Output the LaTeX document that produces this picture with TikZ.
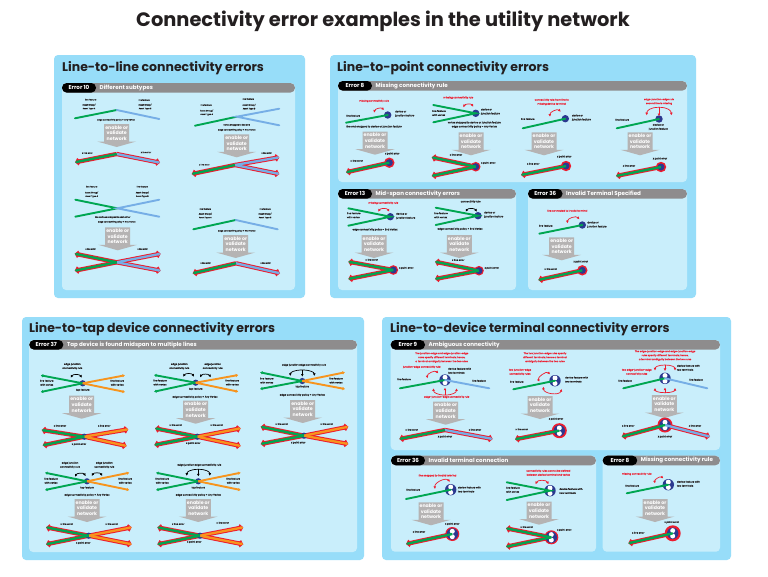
\documentclass[tikz,border=0pt]{standalone}
\usepackage{fontspec}
\setmainfont{Poppins}
\newfontfamily\medf{Poppins}[FakeBold=0.04]
\usetikzlibrary{arrows.meta}
\definecolor{paneloc}{HTML}{97DDF9}
\definecolor{innerc}{HTML}{C9EEFB}
\definecolor{barc}{HTML}{8E8C8D}
\definecolor{blockc}{HTML}{B5B3B3}
\definecolor{lgreen}{HTML}{00A651}
\definecolor{lblue}{HTML}{76AEE6}
\definecolor{lorange}{HTML}{F7941D}
\definecolor{lred}{HTML}{ED1C2E}
\definecolor{devc}{HTML}{2B3990}
\definecolor{inkc}{HTML}{231F20}
\tikzset{
  panel/.style={fill=paneloc,rounded corners=4pt},
  inner/.style={fill=innerc,rounded corners=4pt},
  ttl/.style={anchor=west,inner sep=0,text=inkc,font=\fontsize{12.5}{14}\selectfont\bfseries},
  lab/.style={inner sep=0,align=center,text=inkc,font=\fontsize{2.4}{4}\selectfont\medf},
  labs/.style={inner sep=0,align=center,text=inkc,font=\fontsize{2}{3.6}\selectfont\medf},
  labl/.style={lab,anchor=west,align=left},
  rlab/.style={lab,text=lred},
  glin/.style={line width=1.9pt,draw=#1,line cap=round},
  tlin/.style={line width=1.9pt,draw=#1,-{Latex[length=2.5pt,width=3.6pt]}},
  errout/.style={line width=4.3pt,draw=lred,-{Diamond[length=6pt,width=7.5pt]}},
  errin/.style={line width=2.3pt,draw=#1,-{Latex[length=2.5pt,width=3.6pt]}},
  rul/.style={line width=.7pt,draw=#1,{Latex[length=2.6pt,width=2.8pt]}-{Latex[length=2.6pt,width=2.8pt]}},
  rulo/.style={line width=.7pt,draw=#1,-{Latex[length=2.6pt,width=2.8pt]}}
}
% grey arrow that says enable or validate
\newcommand{\enable}[2]{%
  \fill[blockc] (#1-12.5,#2) -- (#1+12.5,#2) -- (#1+12.5,#2+17.5) -- (#1+19.5,#2+17.5) -- (#1,#2+23) -- (#1-19.5,#2+17.5) -- (#1-12.5,#2+17.5) -- cycle;
  \node[inner sep=0,align=center,text=white,font=\fontsize{4.7}{5.6}\selectfont\bfseries] at (#1,#2+9) {enable or\\validate\\network};
}
% header bar of one error
\newcommand{\errbar}[6]{%
  \fill[barc,rounded corners=4.7pt] (#1,#3) rectangle (#2,#3+9.6);
  \fill[black,rounded corners=4.7pt] (#1,#3) rectangle (#1+#4,#3+9.6);
  \node[inner sep=0,text=white,font=\fontsize{5.6}{6}\selectfont\bfseries] at (#1+#4/2,#3+4.8) {#5};
  \node[anchor=west,inner sep=0,text=white,font=\fontsize{5.6}{6}\selectfont\bfseries] at (#1+#4+3.5,#3+4.8) {#6};
}
\newcommand{\dev}[2]{\fill[devc] (#1,#2) circle (3.7);}
\newcommand{\tap}[2]{\fill[devc] (#1,#2) circle (3.1);}
\newcommand{\edev}[3]{\fill[lred] (#1,#2) circle (#3); \fill[devc] (#1,#2) circle (3.5);}
\newcommand{\twot}[2]{\fill[devc] (#1,#2) circle (5.7); \fill[white] (#1,#2-2.7) circle (2.5); \fill[white] (#1,#2+2.7) circle (2.5);}
\newcommand{\etwot}[3]{\fill[lred] (#1,#2) circle (#3); \twot{#1}{#2}}
% error highlight, #3 goes between the red rim and the feature
\newcommand{\errg}[3]{%
  \foreach \e in {#2} \draw[errout] #1 -- \e;
  #3
  \foreach \e in {#2} \draw[errin=lgreen] #1 -- \e;
}
\newcommand{\errgb}[5]{%
  \foreach \e in {#2,#4} \draw[errout] #1 -- \e;
  #5
  \foreach \e in {#4} \draw[errin=#3] #1 -- \e;
  \foreach \e in {#2} \draw[errin=lgreen] #1 -- \e;
}
% three arrows out of one point, #4 half width, #5 drop
\newcommand{\trio}[5]{%
  \draw[rulo=#1] (#2,#3) .. controls (#2-#4*.7,#3) and (#2-#4,#3+#5*.4) .. (#2-#4,#3+#5);
  \draw[rulo=#1] (#2,#3) .. controls (#2+#4*.7,#3) and (#2+#4,#3+#5*.4) .. (#2+#4,#3+#5);
  \draw[rulo=#1] (#2,#3) -- (#2,#3+#5*1.1);
}
\begin{document}
\begin{tikzpicture}[x=1pt,y=-1pt]
\useasboundingbox (0,0) rectangle (768,576);
\fill[white] (0,0) rectangle (768,576);
\node[inner sep=0,text=inkc,font=\fontsize{19.4}{22}\selectfont\bfseries] (title) at (383,21.5) {Connectivity error examples in the utility network};

%%% line to line
\fill[panel] (54,55) rectangle (305,298);
\fill[inner] (62,83) rectangle (295,290);
\node[ttl] (ttlA) at (62,68) {Line-to-line connectivity errors};
\errbar{62}{295}{83}{34}{Error 10}{Different subtypes}
% subtypes 1
\node[labs] at (90.7,99.7) {line feature};
\node[labs] at (89,106.7) {Asset Group/\\Asset Type A};
\node[labs] at (144,100) {line feature};
\node[labs] at (145,106.7) {Asset Group/\\Asset Type B};
\draw[glin=lgreen] (75,118.3) -- (116.7,110);
\draw[glin=lblue] (116.7,110) -- (159.3,119);
\node[labs] at (116,120) {edge connectivity policy = Any Vertex};
\enable{116.7}{124}
\errgb{(116.7,154)}{(75,162.3)}{lblue}{(160,162.7)}{}
\node[labs] at (87.3,153) {x line error};
\node[labs] at (146,152.3) {x line error};
% subtypes 2
\node[labs] at (206,105) {line feature};
\node[labs] at (206.7,112.5) {Asset Group/\\Asset Type A};
\node[labs] at (248.3,99) {line feature};
\node[labs] at (249,106.8) {Asset Group/\\Asset Type B};
\draw[glin=lgreen] (195,125.7) -- (236.7,116.7);
\draw[glin=lblue] (279.3,108.7) -- (236.7,116.7) -- (279.3,125.3);
\node[labs] at (236.7,125) {vertex snapped to line end};
\node[labs] at (236.7,130) {edge connectivity policy = Any Vertex};
\enable{236.7}{134.3}
\errgb{(235,165)}{(191.7,174)}{lblue}{(279.3,157.3),(279.3,174)}{}
\node[labs] at (204.3,164.7) {x line error};
\node[labs] at (266.7,153) {x line error};
% subtypes 3
\node[labs] at (91.7,186.7) {line feature};
\node[labs] at (91.7,194.4) {Asset Group/\\Asset Type A};
\node[labs] at (142.3,186.7) {line feature};
\node[labs] at (142.3,194.4) {Asset Group/\\Asset Type B};
\draw[glin=lgreen] (75.3,199.7) -- (117.3,208.3) -- (75.3,216.7);
\draw[glin=lblue] (159.3,199.7) -- (117.3,208.3) -- (159.3,216.7);
\node[labs] at (112.7,217.3) {line vertices snapped to each other};
\node[labs] at (116.7,222) {edge connectivity policy = Any Vertex};
\enable{117.7}{227.3}
\errgb{(116.7,262.3)}{(74.7,253.7),(74.7,270.7)}{lblue}{(160.7,253.7),(160.7,270.7)}{}
\node[labs] at (90.7,249) {x line error};
\node[labs] at (142.7,249) {x line error};
% subtypes 4
\node[labs] at (205.3,209) {line feature};
\node[labs] at (205.3,215.7) {Asset Group/\\Asset Type A};
\node[labs] at (265,209) {line feature};
\node[labs] at (265,215.7) {Asset Group/\\Asset Type B};
\draw[glin=lgreen] (193.3,229.3) -- (235.7,220);
\draw[glin=lblue] (235.7,220) -- (277.7,229.3);
\node[labs] at (236.7,231) {edge connectivity policy = End Vertex};
\enable{235.7}{235}
\errgb{(236,263.3)}{(192.7,273.3)}{lblue}{(280,273.3)}{}
\node[labs] at (205.7,263) {x line error};
\node[labs] at (265.7,263) {x line error};

%%% line to point
\fill[panel] (330,55) rectangle (696,298);
\fill[inner] (338,81) rectangle (687,182);
\fill[inner] (338,189) rectangle (516,290);
\fill[inner] (528,189) rectangle (687,290);
\node[ttl] (ttlB) at (337,68) {Line-to-point connectivity errors};
\errbar{338}{687}{81}{34}{Error 8}{Missing connectivity rule}
\errbar{338}{516}{189}{34}{Error 13}{Mid-span connectivity errors}
\errbar{528}{687}{189}{34.5}{Error 36}{Invalid Terminal Specified}
% missing rule 1
\dev{387.7}{115}
\draw[glin=lgreen] (346,122.7) -- (387.7,115);
\node[rlab] at (374,101) {missing connectivity rule};
\draw[rul=lred] (374,112.7) to[bend left=60] (384,110);
\node[lab] at (353.3,115.7) {line feature};
\node[labl] at (395,113.7) {device or\\junction feature};
\node[lab] at (374,126.7) {line end snapped to device or junction feature};
\enable{375}{131.7}
\errg{(389.3,162.7)}{(346,172.3)}{\edev{389.3}{162.7}{5.2}}
\node[lab] at (356.7,160.7) {x line error};
\node[lab] at (392.3,153.7) {x point error};
% missing rule 2
\dev{475.7}{113.3}
\draw[glin=lgreen] (433.3,105) -- (475.7,113.3) -- (433.3,122.3);
\node[rlab] at (458.3,97.7) {missing connectivity rule};
\draw[rul=lred] (463.3,107.3) to[bend left=60] (473.3,106.7);
\node[labl] at (432,113) {line feature\\with vertex};
\node[labl] at (480.7,111.7) {device or\\junction feature};
\node[lab] at (474.3,122.7) {vertex snapped to device or junction feature};
\node[lab] at (474.3,126.7) {edge connectivity policy = Any Vertex};
\enable{471}{132.3}
\errg{(475.7,166.7)}{(431.7,157.3),(431.7,176)}{\edev{475.7}{166.7}{4.8}}
\node[lab] at (456,154.7) {x line error};
\node[labl] at (481,163) {x point error};
% missing rule 3
\dev{565.3}{118.7}
\draw[glin=lgreen] (522.7,128.3) -- (565.3,118.7);
\node[rlab] at (551.7,102) {connectivity rule from line to\\missing device terminal};
\draw[rul=lred] (550,116.7) to[bend left=70] (560.7,111.7);
\node[lab] at (527.7,119) {line feature};
\node[labl] at (571.7,117.7) {device or\\junction feature};
\enable{544}{132.3}
\errg{(566,166)}{(521,175)}{\edev{566}{166}{5.2}}
\node[lab] at (533.3,163.7) {x line error};
\node[lab] at (564.3,156.7) {x point error};
% missing rule 4
\dev{659}{119}
\draw[glin=lgreen] (616.7,128.3) -- (659,119);
\node[rlab] at (659,101.5) {edge-junction-edge rule\\second line is missing};
\trio{lred}{659}{107.3}{12.3}{8}
\node[lab] at (622.3,119.7) {line feature};
\node[lab] at (658.3,127) {device or\\junction feature};
\enable{640}{132.3}
\errg{(661,167)}{(616,176)}{\edev{661}{167}{5.2}}
\node[lab] at (629,165.7) {x line error};
\node[lab] at (660,158.7) {x point error};
% mid span 1
\dev{390.3}{216.7}
\draw[glin=lgreen] (348.3,208.3) -- (390.3,216.7) -- (348.3,225.7);
\node[rlab] at (383.3,203) {missing connectivity rule};
\draw[rul=lred] (378.3,211.7) to[bend left=60] (389.3,211.7);
\node[labl] at (346.7,215.3) {line feature\\with vertex};
\node[labl] at (396,216) {device or\\junction feature};
\node[lab] at (375,229.7) {edge connectivity policy = End Vertex};
\enable{374}{235}
\errg{(393.3,270)}{(348.3,261.7),(348.3,279)}{\edev{393.3}{270}{4.8}}
\node[lab] at (371.7,259.7) {x line error};
\node[labl] at (399,268) {x point error};
% mid span 2
\dev{478}{215.7}
\draw[glin=lgreen] (435.7,207.7) -- (478,215.7) -- (435.7,225);
\node[lab] at (470.7,201.7) {connectivity rule};
\draw[rul=black] (465.7,211.7) to[bend left=60] (476.7,211.7);
\node[labl] at (434,215.3) {line feature\\with vertex};
\node[labl] at (484,214.7) {device or\\junction feature};
\node[lab] at (460,229) {edge connectivity policy = End Vertex};
\enable{459.3}{235}
\errg{(479,270.7)}{(435,261.7),(435,279)}{\edev{479}{270.7}{4.8}}
\node[lab] at (458.3,260) {x line error};
\node[labl] at (484.5,268) {x point error};
% invalid terminal
\dev{582.3}{225}
\draw[glin=lgreen] (539.3,233.7) -- (582.3,225);
\node[rlab] at (567.3,210.7) {line connected to invalid terminal};
\draw[rul=lred] (567.3,223.3) to[bend left=70] (579.3,219.3);
\node[lab] at (545.7,225.7) {line feature};
\node[labl] at (587.3,224.7) {device or\\junction feature};
\enable{561.7}{237.3}
\errg{(582.3,270.3)}{(538.3,280)}{\edev{582.3}{270.3}{5.2}}
\node[lab] at (550.7,269) {x line error};
\node[lab] at (580.7,261.7) {x point error};

%%% line to tap device
\fill[panel] (22,317) rectangle (364,560);
\fill[inner] (29,340) rectangle (357,552);
\node[ttl] (ttlC) at (29,329) {Line-to-tap device connectivity errors};
\errbar{29.3}{357}{340}{34}{Error 37}{Tap device is found midspan to multiple lines}
% tap 1
\tap{82.7}{383.3}
\draw[tlin=lgreen] (82.7,383.3) -- (40.7,375.3);
\draw[tlin=lgreen] (82.7,383.3) -- (40.7,392);
\draw[tlin=lorange] (82.7,383.3) -- (125,375.3);
\draw[tlin=lorange] (82.7,383.3) -- (125,392);
\node[lab] at (72.3,366.3) {edge junction\\connectivity rule};
\draw[rul=black] (70.7,377.7) to[bend left=60] (81.7,377.7);
\node[lab] at (46.7,382.7) {line feature\\with vertex};
\node[lab] at (117.3,382.7) {line feature\\with vertex};
\node[lab] at (82.7,390) {tap feature};
\enable{81.7}{395.7}
\errgb{(84.3,436.7)}{(41.7,430),(42.7,445.3)}{lorange}{(128.3,429.3),(126.7,446)}{\tap{84.3}{436.7}}
\node[lab] at (60,425.7) {x line error};
\node[lab] at (104.3,425.7) {x line error};
\node[lab] at (79,444.3) {x point error};
% tap 2
\tap{195.7}{382.7}
\draw[tlin=lgreen] (195.7,382.7) -- (154,375);
\draw[tlin=lgreen] (195.7,382.7) -- (154,391.7);
\draw[tlin=lorange] (195.7,382.7) -- (238.3,375);
\draw[tlin=lorange] (195.7,382.7) -- (238.3,391.7);
\node[lab] at (179.3,366.3) {edge junction\\connectivity rule};
\node[lab] at (212.7,366.3) {edge junction\\connectivity rule};
\draw[rul=black] (183.3,376.7) to[bend left=60] (194,376.7);
\draw[rul=black] (200,377.3) to[bend left=60] (210.7,377.3);
\node[lab] at (160,382.5) {line feature\\with vertex};
\node[lab] at (232.3,382.5) {line feature\\with vertex};
\node[lab] at (195.7,389) {tap feature};
\node[lab] at (195,397) {edge connectivity policy = Any Vertex};
\enable{195.7}{400.7}
\errgb{(197.3,436.7)}{(155,428.3),(154.3,445)}{lorange}{(240.7,428.3),(240.7,446)}{\tap{197.3}{436.7}}
\node[lab] at (175.7,425) {x line error};
\node[lab] at (216.7,425) {x line error};
\node[lab] at (193.3,443.3) {x point error};
% tap 3
\tap{302.3}{381}
\draw[tlin=lgreen] (302.3,381) -- (260,372.3);
\draw[tlin=lgreen] (302.3,381) -- (260,389);
\draw[tlin=lorange] (302.3,381) -- (345,372.3);
\draw[tlin=lorange] (302.3,381) -- (345,389);
\node[lab] at (304,365) {edge junction edge connectivity rule};
\trio{black}{302.3}{370}{12}{6}
\node[lab] at (266.7,380.5) {line feature\\with vertex};
\node[lab] at (336,380.5) {line feature\\with vertex};
\node[lab] at (302.3,386.7) {tap feature};
\node[lab] at (302.3,395) {edge connectivity policy = Any Vertex};
\enable{302.7}{400}
\errgb{(304,435.7)}{(260.7,426.7),(260.7,444)}{lorange}{(348.3,426.7),(348.3,444)}{\tap{304}{435.7}}
\node[lab] at (281.7,424) {x line error};
\node[lab] at (326.7,424) {x line error};
\node[lab] at (298.3,442.7) {x point error};
% tap 4
\tap{87}{481.3}
\draw[tlin=lgreen] (87,481.3) -- (45,472.7);
\draw[tlin=lgreen] (87,481.3) -- (45,490);
\draw[tlin=lorange] (87,481.3) -- (129.3,472.7);
\draw[tlin=lorange] (87,481.3) -- (129.3,490);
\node[lab] at (70,465) {edge junction\\connectivity rule};
\node[lab] at (104.3,465) {edge junction\\connectivity rule};
\draw[rul=black] (75,476.7) to[bend left=60] (85.7,476);
\draw[rul=black] (91.7,476) to[bend left=60] (102.3,476);
\node[lab] at (51,480.7) {line feature\\with vertex};
\node[lab] at (125.3,480.7) {line feature\\with vertex};
\node[lab] at (87,487.7) {tap feature};
\node[lab] at (87,495) {edge connectivity policy = Any Vertex};
\enable{87}{499}
\errgb{(88.7,535.7)}{(46,527.3),(46,544.3)}{lorange}{(131.7,527.3),(131.7,544.3)}{\tap{88.7}{535.7}}
\node[lab] at (66.7,524) {x line error};
\node[lab] at (111.7,524) {x line error};
\node[lab] at (83.3,543) {x point error};
% tap 5
\tap{198.3}{481.3}
\draw[tlin=lgreen] (198.3,481.3) -- (156,472.7);
\draw[tlin=lgreen] (198.3,481.3) -- (156,490);
\draw[tlin=lorange] (198.3,481.3) -- (240.7,472.7);
\draw[tlin=lorange] (198.3,481.3) -- (240.7,490);
\node[lab] at (199.3,465) {edge junction edge connectivity rule};
\trio{black}{198.3}{469.3}{11.5}{6.5}
\node[lab] at (162.3,480.7) {line feature\\with vertex};
\node[lab] at (233.3,480.7) {line feature\\with vertex};
\node[lab] at (198.3,487.7) {tap feature};
\node[lab] at (198.3,495) {edge connectivity policy = Any Vertex};
\enable{198.3}{499}
\errgb{(200,535.7)}{(157.3,527.3),(157.3,544.3)}{lorange}{(243.3,527.3),(243.3,544.3)}{\tap{200}{535.7}}
\node[lab] at (178.3,524) {x line error};
\node[lab] at (222.7,522.7) {x line error};
\node[lab] at (194.3,542) {x point error};

%%% line to device terminal
\fill[panel] (382,317) rectangle (731,560);
\fill[inner] (390.7,340) rectangle (720,450);
\fill[inner] (391,455.7) rectangle (596,551.7);
\fill[inner] (602.7,455.7) rectangle (720,551.7);
\node[ttl] (ttlD) at (390,329) {Line-to-device terminal connectivity errors};
\errbar{390.7}{720}{340}{34.3}{Error 9}{Ambiguous connectivity}
\errbar{391}{596}{455.7}{34}{Error 36}{Invalid terminal connection}
\errbar{602.7}{720}{455.7}{34.5}{Error 8}{Missing connectivity rule}
% ambiguous 1
\twot{445}{380}
\draw[glin=lgreen] (400,388.3) -- (445,380);
\draw[glin=lblue] (445,380) -- (489.3,388.3);
\node[rlab] at (441.7,357.5) {The junction-edge and edge-junction-edge\\rules specify different terminals; hence,\\a terminal ambiguity between the two rules};
\node[rlab] at (421.7,367) {junction-edge connectivity rule};
\draw[rul=lred] (427.3,378.3) to[bend left=70] (438.3,373.3);
\trio{lred}{445}{395}{11.5}{-6.7}
\node[labl] at (448,370.7) {device feature with\\two terminals};
\node[lab] at (404,379.3) {line feature};
\node[lab] at (479,380.7) {line feature};
\node[rlab] at (446.7,397) {edge-junction-edge connectivity rule};
\enable{445.7}{401.7}
\errgb{(445,430)}{(399.3,439)}{lblue}{(492.7,439)}{}
\node[lab] at (411.7,429.7) {x line error};
\node[lab] at (475,429.7) {x line error};
\node[lab] at (445,436.7) {x point error};
% ambiguous 2
\twot{555}{380.7}
\draw[glin=lgreen] (513.3,389.3) -- (555,380.7);
\node[rlab] at (545,357.5) {The two junction-edge rules specify\\different terminals; hence a terminal\\ambiguity between the two rules};
\node[rlab] at (520,372) {two junction-edge\\connectivity rules};
\draw[rul=lred] (539.3,381.7) to[bend left=80] (550,374.3);
\draw[rul=lred] (543.3,386.7) to[bend right=80] (561.7,389);
\node[labl] at (565,379.5) {device feature with\\two terminals};
\node[lab] at (516.7,381.7) {line feature};
\enable{540}{396}
\errg{(559.3,430.7)}{(515,439.3)}{\etwot{559.3}{430.7}{7.5}}
\node[lab] at (521.7,429.3) {x line error};
\node[lab] at (556,419) {x point error};
% ambiguous 3
\twot{665}{378.3}
\draw[glin=lgreen] (623.3,388.3) -- (665,378.3);
\draw[glin=lblue] (665,378.3) -- (707.3,388.3);
\node[rlab] at (665,355.5) {The edge-junction-edge and edge-junction-edge\\rules specify different terminals; hence,\\a terminal ambiguity between the two rules};
\node[rlab] at (636.7,372) {two edge-junction-edge\\connectivity rules};
\trio{lred}{665}{365}{10}{5.5}
\trio{lred}{665}{392.7}{10}{-4.7}
\node[labl] at (676.7,367.8) {device feature with\\two terminals};
\node[lab] at (625,380.7) {line feature};
\node[lab] at (696,379.7) {line feature};
\enable{664.3}{395}
\errgb{(665,425)}{(621.7,436.7)}{lblue}{(710,436.7)}{\etwot{665}{425}{7.5}}
\node[lab] at (628.3,425.7) {x line error};
\node[lab] at (695,425.7) {x line error};
\node[lab] at (665,436.7) {x point error};
% invalid connection 1
\twot{450.7}{489.7}
\draw[glin=lgreen] (406,499) -- (450.7,489.7);
\node[rlab] at (437.7,475.7) {line snapped to invalid terminal};
\draw[rul=lred] (435,489) to[bend left=70] (450,481.7);
\node[lab] at (413.3,489.7) {line feature};
\node[labl] at (457.7,489.4) {device feature with\\two terminals};
\enable{431}{502.3}
\errg{(452.3,534)}{(406,544)}{\etwot{452.3}{534}{7}}
\node[lab] at (419,531.7) {x line error};
\node[lab] at (452.3,524) {x point error};
% invalid connection 2
\twot{550}{490.7}
\draw[glin=lgreen] (506.7,482.3) -- (550,490.7) -- (506.7,500);
\node[rlab] at (548.3,472.7) {connectivity rules cannot be defined\\between device terminal and vertex};
\draw[rul=lred] (535.7,484.3) to[bend left=70] (548.3,484.3);
\node[labl] at (506,489.7) {line feature\\with vertex};
\node[labl] at (559.3,491) {device feature with\\two terminals};
\enable{539}{501.7}
\errg{(551.3,537.3)}{(506,528.3),(506,546.7)}{\etwot{551.3}{537.3}{7}}
\node[lab] at (526.7,527) {x line error};
\node[labl] at (557,530) {x point error};
% missing rule terminal
\twot{668.3}{484.7}
\draw[glin=lgreen] (626.7,493.3) -- (668.3,484.7);
\node[rlab] at (636.7,474) {missing connectivity rule};
\draw[rul=lred] (655,483.3) to[bend left=70] (663.3,478.3);
\node[lab] at (632.3,485.7) {line feature};
\node[labl] at (676.7,483.7) {device feature with\\two terminals};
\enable{655}{499}
\errg{(672.7,533.3)}{(628.3,543.3)}{\etwot{672.7}{533.3}{8}}
\node[lab] at (638.3,532.7) {x line error};
\node[lab] at (671.7,522.3) {x point error};
\end{tikzpicture}
\end{document}
